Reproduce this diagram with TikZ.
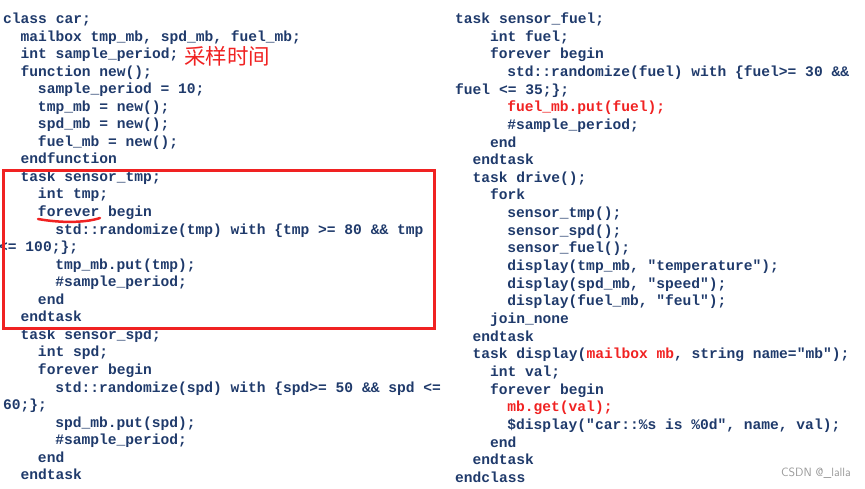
\documentclass[tikz,border=0pt]{standalone}
\usepackage{fontspec}
\setmonofont{Liberation Mono}
\newfontfamily\cjk{Noto Sans CJK SC}
\definecolor{codeblue}{HTML}{1F3A6B}
\definecolor{hl}{HTML}{F02222}
\begin{document}
\begin{tikzpicture}[x=1pt,y=-1pt,
  code/.style={anchor=base west,inner sep=0pt,text=codeblue,font=\ttfamily\bfseries\fontsize{14.6}{16}\selectfont}]
\useasboundingbox (0,0) rectangle (865,489);
\def\cw{8.7}
\newcommand\Lline[3]{\node[code] (L#1) at ({3+#2*\cw},{23.5+(#1-1)*17.55}) {#3};}
\newcommand\Rline[3]{\node[code] (R#1) at ({455+#2*\cw},{23.5+(#1-1)*17.65}) {#3};}
\Lline{1}{0}{class car;}
\Lline{2}{2}{mailbox tmp\_mb, spd\_mb, fuel\_mb;}
\Lline{3}{2}{int sample\_period;}
\Lline{4}{2}{function new();}
\Lline{5}{4}{sample\_period = 10;}
\Lline{6}{4}{tmp\_mb = new();}
\Lline{7}{4}{spd\_mb = new();}
\Lline{8}{4}{fuel\_mb = new();}
\Lline{9}{2}{endfunction}
\Lline{10}{2}{task sensor\_tmp;}
\Lline{11}{4}{int tmp;}
\Lline{12}{4}{forever begin}
\Lline{13}{6}{std::randomize(tmp) with \{tmp >= 80 \&\& tmp}
\node[code] (L14) at (-1,{23.5+13*17.55}) {<= 100;\};};
\Lline{15}{6}{tmp\_mb.put(tmp);}
\Lline{16}{6}{\#sample\_period;}
\Lline{17}{4}{end}
\Lline{18}{2}{endtask}
\Lline{19}{2}{task sensor\_spd;}
\Lline{20}{4}{int spd;}
\Lline{21}{4}{forever begin}
\Lline{22}{6}{std::randomize(spd) with \{spd>= 50 \&\& spd <=}
\Lline{23}{0}{60;\};}
\Lline{24}{6}{spd\_mb.put(spd);}
\Lline{25}{6}{\#sample\_period;}
\Lline{26}{4}{end}
\Lline{27}{2}{endtask}
\Rline{1}{0}{task sensor\_fuel;}
\Rline{2}{4}{int fuel;}
\Rline{3}{4}{forever begin}
\Rline{4}{6}{std::randomize(fuel) with \{fuel>= 30 \&\&}
\Rline{5}{0}{fuel <= 35;\};}
\Rline{6}{6}{\textcolor{hl}{fuel\_mb.put(fuel);}}
\Rline{7}{6}{\#sample\_period;}
\Rline{8}{4}{end}
\Rline{9}{2}{endtask}
\Rline{10}{2}{task drive();}
\Rline{11}{4}{fork}
\Rline{12}{6}{sensor\_tmp();}
\Rline{13}{6}{sensor\_spd();}
\Rline{14}{6}{sensor\_fuel();}
\Rline{15}{6}{display(tmp\_mb, "temperature");}
\Rline{16}{6}{display(spd\_mb, "speed");}
\Rline{17}{6}{display(fuel\_mb, "feul");}
\Rline{18}{4}{join\_none}
\Rline{19}{2}{endtask}
\Rline{20}{2}{task display(\textcolor{hl}{mailbox mb}, string name="mb");}
\Rline{21}{4}{int val;}
\Rline{22}{4}{forever begin}
\Rline{23}{6}{\textcolor{hl}{mb.get(val);}}
\Rline{24}{6}{\$display("car::\%s is \%0d", name, val);}
\Rline{25}{4}{end}
\Rline{26}{2}{endtask}
\Rline{27}{0}{endclass}
\node[anchor=west,inner sep=0pt,text=hl,font=\cjk\fontsize{21.5}{22}\selectfont] (note) at (184,56) {采样时间};
\node[draw=hl,line width=3pt,inner sep=0pt,minimum width=431,minimum height=158,anchor=north west] (box) at (1.5,169) {};
\draw[hl,line width=2.5pt,line cap=round] (38,219) .. controls (60,223) and (85,223) .. (100,218);
\node[anchor=south east,inner sep=0pt,text=gray!80,font=\sffamily\fontsize{12}{14}\selectfont] (wm) at (851,479) {CSDN @\_lalla};
\end{tikzpicture}
\end{document}
